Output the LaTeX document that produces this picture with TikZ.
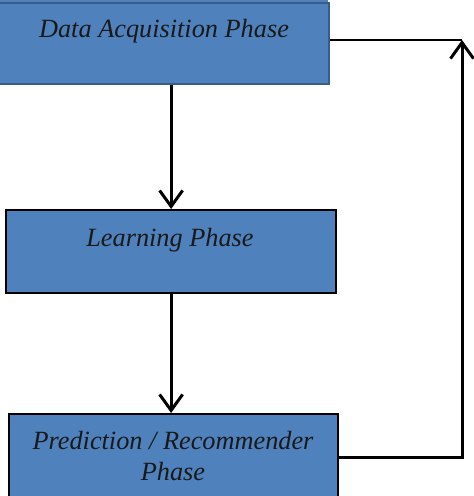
\documentclass[tikz,border=0pt]{standalone}
\usepackage{fontspec}
\setmainfont{Liberation Serif}
\usetikzlibrary{arrows.meta}
\definecolor{boxblue}{RGB}{79,129,189}
\definecolor{edgeblue}{RGB}{56,93,138}
\tikzset{
  phasebox/.style={draw=black, line width=2.2pt, fill=boxblue, rectangle, inner sep=0pt},
  phasetext/.style={font=\itshape\fontsize{26.3}{31}\selectfont, anchor=base, inner sep=0pt, text=black!90},
  conn/.style={line width=3pt, draw=black},
  arr/.style={conn, -{Straight Barb[length=16pt,width=23pt]}}
}
\begin{document}
\begin{tikzpicture}[x=1pt,y=-1pt]
\useasboundingbox (0,0) rectangle (474,496);
\fill[boxblue] (-5,-5) rectangle (328,2);
\node[phasebox, draw=edgeblue, minimum width=333pt, minimum height=81pt, anchor=north west] (dap) at (-5,2) {};
\node[phasebox, minimum width=330pt, minimum height=83pt, anchor=north west] (lp) at (5,209) {};
\node[phasebox, minimum width=329pt, minimum height=90pt, anchor=north west] (pr) at (8,413) {};
\node[phasetext] (t1) at (164,37) {Data Acquisition Phase};
\node[phasetext] (t2) at (170,246) {Learning Phase};
\node[phasetext] (t3) at (173,449) {Prediction / Recommender};
\node[phasetext] (t4) at (173,480) {Phase};
\coordinate (top) at (462,40);
\draw[arr] (lp.north |- dap.south) -- (lp.north);
\draw[arr] (lp.south) -- (lp.south |- pr.north);
\draw[arr] (pr.east |- 0,457) -| (top);
\draw[conn, line width=2.4pt] (dap.east |- top) -- (top);
\end{tikzpicture}
\end{document}
